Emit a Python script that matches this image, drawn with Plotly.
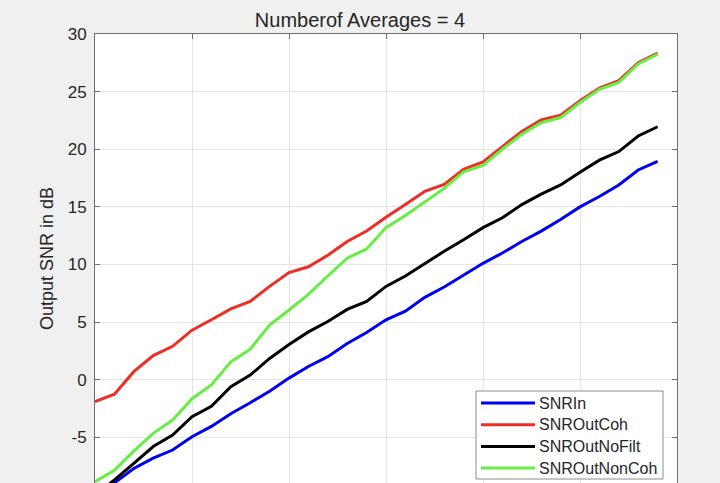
import plotly.graph_objects as go

# input SNR sweep (dB)
snr_x = [-10, -9, -8, -7, -6, -5, -4, -3, -2, -1, 0, 1, 2, 3, 4,
         5, 6, 7, 8, 9, 10, 11, 12, 13, 14, 15, 16, 17, 18, 19]

snr_in = [-10.0, -8.95, -7.7, -6.8, -6.1, -4.95, -4.05, -2.95, -2.0, -1.0,
          0.14, 1.15, 2.0, 3.15, 4.1, 5.2, 5.95, 7.15, 8.05, 9.05,
          10.1, 11.0, 12.0, 12.9, 13.9, 15.0, 15.9, 16.9, 18.2, 18.95]

snr_out_coh = [-1.9, -1.25, 0.7, 2.1, 2.9, 4.3, 5.2, 6.15, 6.8, 8.1,
               9.3, 9.8, 10.8, 12.0, 12.9, 14.1, 15.2, 16.35, 16.95, 18.25,
               18.9, 20.2, 21.55, 22.55, 22.95, 24.2, 25.3, 25.95, 27.5, 28.35]

snr_out_nofilt = [-10.0, -8.7, -7.25, -5.8, -4.8, -3.2, -2.3, -0.6, 0.4, 1.85,
                  3.05, 4.15, 5.05, 6.1, 6.8, 8.1, 9.0, 10.1, 11.15, 12.15,
                  13.2, 14.05, 15.2, 16.1, 16.9, 18.0, 19.05, 19.8, 21.15, 21.95]

snr_out_noncoh = [-8.85, -7.85, -6.2, -4.65, -3.5, -1.65, -0.45, 1.55, 2.65, 4.75,
                  6.05, 7.4, 9.0, 10.55, 11.35, 13.2, 14.25, 15.4, 16.6, 18.05,
                  18.6, 20.0, 21.3, 22.3, 22.75, 24.05, 25.2, 25.8, 27.4, 28.25]

series_names = ["SNRIn", "SNROutCoh", "SNROutNoFilt", "SNROutNonCoh"]
series_colors = ["#0000f0", "#ee2e24", "#000000", "#66ee44"]
y_ticks = [-5, 0, 5, 10, 15, 20, 25, 30]
y_tick_labels = ["-5", "0", "5", "10", "15", "20", "25", "30"]
x_ticks = [-10, -5, 0, 5, 10, 15, 20]

FONT = "Arial, Liberation Sans, Helvetica, sans-serif"
W, H = 720, 483
L, R, T, B = 95, 43, 34, 0
PW, PH = W - L - R, H - T - B


def px(xp):
    return (xp - L) / PW


def py(yp):
    return (H - B - yp) / PH


fig = go.Figure()

for name, ys, col in zip(series_names,
                         [snr_in, snr_out_coh, snr_out_nofilt, snr_out_noncoh],
                         series_colors):
    fig.add_trace(go.Scatter(x=snr_x, y=ys, mode="lines", name=name,
                             line=dict(color=col, width=3)))

# MATLAB-style legend box drawn by hand (longer line samples than plotly's)
shapes = [dict(type="rect", xref="paper", yref="paper",
               x0=px(476), x1=px(663), y0=py(479), y1=py(391),
               line=dict(color="#8c8c8c", width=1), fillcolor="white", layer="above")]
annotations = []
for i, (name, col) in enumerate(zip(series_names, series_colors)):
    yc = 403 + i * 21.7
    shapes.append(dict(type="line", xref="paper", yref="paper",
                       x0=px(481), x1=px(535), y0=py(yc), y1=py(yc),
                       line=dict(color=col, width=3), layer="above"))
    annotations.append(dict(xref="paper", yref="paper", x=px(537), y=py(yc),
                            text=name, showarrow=False, xanchor="left", yanchor="middle",
                            font=dict(family=FONT, size=16, color="#262626")))

fig.update_layout(
    width=W, height=H,
    margin=dict(l=L, r=R, t=T, b=B, pad=0, autoexpand=False),
    paper_bgcolor="#f0f0f0",
    plot_bgcolor="white",
    showlegend=False,
    hovermode=False,
    title=dict(text="Numberof Averages = 4", x=px((L + W - R) / 2), xanchor="center",
               y=1 - 20 / H, yanchor="middle",
               font=dict(family=FONT, size=20, color="#262626")),
    font=dict(family=FONT, size=17, color="#262626"),
    shapes=shapes,
    annotations=annotations,
)

fig.update_xaxes(range=[-10, 20], tickvals=x_ticks, showticklabels=False,
                 side="top", ticks="inside", ticklen=5, tickcolor="#6e6e6e",
                 showline=True, linecolor="#6e6e6e", linewidth=1, mirror=False,
                 showgrid=True, gridcolor="#e4e4e4", gridwidth=1, zeroline=False,
                 automargin=False)

fig.update_yaxes(range=[-8.96, 30], tickvals=y_ticks, ticktext=y_tick_labels,
                 ticks="inside", ticklen=5, tickcolor="#6e6e6e",
                 showline=True, linecolor="#6e6e6e", linewidth=1, mirror="ticks",
                 showgrid=True, gridcolor="#e4e4e4", gridwidth=1, zeroline=False,
                 tickfont=dict(family=FONT, size=17, color="#262626"),
                 ticklabelstandoff=4, automargin=False,
                 title=dict(text="Output SNR in dB", standoff=9,
                            font=dict(family=FONT, size=18, color="#262626")))

# drop the browser's default 8px page margin so the figure sits at (0, 0)
fig.write_html("out.html", config={"displayModeBar": False},
               post_script="document.body.style.margin='0';")
